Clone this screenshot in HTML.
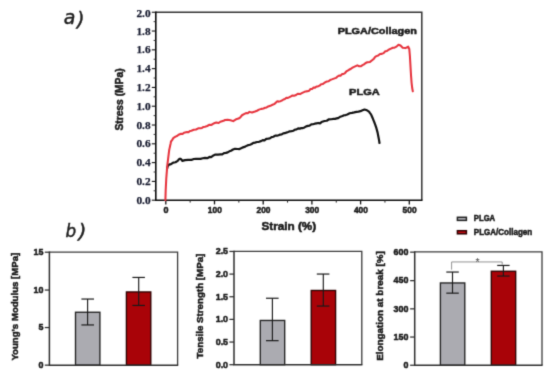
<!DOCTYPE html>
<html lang="en">
<head>
<meta charset="utf-8">
<title>Stress-strain and tensile properties of PLGA and PLGA/Collagen</title>
<style>
html,body{margin:0;padding:0;background:#ffffff;}
body{width:550px;height:375px;overflow:hidden;}
svg{display:block;}
</style>
</head>
<body>
<svg width="550" height="375" viewBox="0 0 550 375" role="img" aria-label="Stress-strain curves and tensile properties of PLGA and PLGA/Collagen">
<defs><filter id="soft" x="0" y="0" width="550" height="375" filterUnits="userSpaceOnUse" color-interpolation-filters="sRGB"><feConvolveMatrix order="3" kernelMatrix="0.0192 0.1001 0.0192 0.1001 0.5228 0.1001 0.0192 0.1001 0.0192" edgeMode="duplicate" preserveAlpha="true"/></filter></defs>
<g filter="url(#soft)">
<rect x="-5" y="-5" width="560" height="385" fill="#ffffff"/>
<path d="M155.8 12.25 H421.8 V200.2" fill="none" stroke="#333" stroke-width="1.5"/>
<path d="M155.8 11.55 V200.2 H422.5" fill="none" stroke="#0a0a0a" stroke-width="1.6"/>
<line x1="151.8" y1="200.2" x2="155.8" y2="200.2" stroke="#111" stroke-width="1.1" />
<text x="150.6" y="203.8" font-size="11.4" font-family='"Liberation Serif", "DejaVu Serif", serif' font-weight="bold" text-anchor="end" fill="#161a2e" textLength="14.2" lengthAdjust="spacingAndGlyphs" stroke="#161a2e" stroke-width="0.25">0.0</text>
<line x1="153.60000000000002" y1="190.8" x2="155.8" y2="190.8" stroke="#222" stroke-width="0.9" />
<line x1="151.8" y1="181.41" x2="155.8" y2="181.41" stroke="#111" stroke-width="1.1" />
<text x="150.6" y="185.01" font-size="11.4" font-family='"Liberation Serif", "DejaVu Serif", serif' font-weight="bold" text-anchor="end" fill="#161a2e" textLength="14.2" lengthAdjust="spacingAndGlyphs" stroke="#161a2e" stroke-width="0.25">0.2</text>
<line x1="153.60000000000002" y1="172.01" x2="155.8" y2="172.01" stroke="#222" stroke-width="0.9" />
<line x1="151.8" y1="162.61" x2="155.8" y2="162.61" stroke="#111" stroke-width="1.1" />
<text x="150.6" y="166.21" font-size="11.4" font-family='"Liberation Serif", "DejaVu Serif", serif' font-weight="bold" text-anchor="end" fill="#161a2e" textLength="14.2" lengthAdjust="spacingAndGlyphs" stroke="#161a2e" stroke-width="0.25">0.4</text>
<line x1="153.60000000000002" y1="153.21" x2="155.8" y2="153.21" stroke="#222" stroke-width="0.9" />
<line x1="151.8" y1="143.81" x2="155.8" y2="143.81" stroke="#111" stroke-width="1.1" />
<text x="150.6" y="147.41" font-size="11.4" font-family='"Liberation Serif", "DejaVu Serif", serif' font-weight="bold" text-anchor="end" fill="#161a2e" textLength="14.2" lengthAdjust="spacingAndGlyphs" stroke="#161a2e" stroke-width="0.25">0.6</text>
<line x1="153.60000000000002" y1="134.42" x2="155.8" y2="134.42" stroke="#222" stroke-width="0.9" />
<line x1="151.8" y1="125.02" x2="155.8" y2="125.02" stroke="#111" stroke-width="1.1" />
<text x="150.6" y="128.62" font-size="11.4" font-family='"Liberation Serif", "DejaVu Serif", serif' font-weight="bold" text-anchor="end" fill="#161a2e" textLength="14.2" lengthAdjust="spacingAndGlyphs" stroke="#161a2e" stroke-width="0.25">0.8</text>
<line x1="153.60000000000002" y1="115.62" x2="155.8" y2="115.62" stroke="#222" stroke-width="0.9" />
<line x1="151.8" y1="106.22" x2="155.8" y2="106.22" stroke="#111" stroke-width="1.1" />
<text x="150.6" y="109.82" font-size="11.4" font-family='"Liberation Serif", "DejaVu Serif", serif' font-weight="bold" text-anchor="end" fill="#161a2e" textLength="14.2" lengthAdjust="spacingAndGlyphs" stroke="#161a2e" stroke-width="0.25">1.0</text>
<line x1="153.60000000000002" y1="96.83" x2="155.8" y2="96.83" stroke="#222" stroke-width="0.9" />
<line x1="151.8" y1="87.43" x2="155.8" y2="87.43" stroke="#111" stroke-width="1.1" />
<text x="150.6" y="91.03" font-size="11.4" font-family='"Liberation Serif", "DejaVu Serif", serif' font-weight="bold" text-anchor="end" fill="#161a2e" textLength="14.2" lengthAdjust="spacingAndGlyphs" stroke="#161a2e" stroke-width="0.25">1.2</text>
<line x1="153.60000000000002" y1="78.03" x2="155.8" y2="78.03" stroke="#222" stroke-width="0.9" />
<line x1="151.8" y1="68.63" x2="155.8" y2="68.63" stroke="#111" stroke-width="1.1" />
<text x="150.6" y="72.23" font-size="11.4" font-family='"Liberation Serif", "DejaVu Serif", serif' font-weight="bold" text-anchor="end" fill="#161a2e" textLength="14.2" lengthAdjust="spacingAndGlyphs" stroke="#161a2e" stroke-width="0.25">1.4</text>
<line x1="153.60000000000002" y1="59.24" x2="155.8" y2="59.24" stroke="#222" stroke-width="0.9" />
<line x1="151.8" y1="49.84" x2="155.8" y2="49.84" stroke="#111" stroke-width="1.1" />
<text x="150.6" y="53.44" font-size="11.4" font-family='"Liberation Serif", "DejaVu Serif", serif' font-weight="bold" text-anchor="end" fill="#161a2e" textLength="14.2" lengthAdjust="spacingAndGlyphs" stroke="#161a2e" stroke-width="0.25">1.6</text>
<line x1="153.60000000000002" y1="40.44" x2="155.8" y2="40.44" stroke="#222" stroke-width="0.9" />
<line x1="151.8" y1="31.04" x2="155.8" y2="31.04" stroke="#111" stroke-width="1.1" />
<text x="150.6" y="34.64" font-size="11.4" font-family='"Liberation Serif", "DejaVu Serif", serif' font-weight="bold" text-anchor="end" fill="#161a2e" textLength="14.2" lengthAdjust="spacingAndGlyphs" stroke="#161a2e" stroke-width="0.25">1.8</text>
<line x1="153.60000000000002" y1="21.65" x2="155.8" y2="21.65" stroke="#222" stroke-width="0.9" />
<line x1="151.8" y1="12.25" x2="155.8" y2="12.25" stroke="#111" stroke-width="1.1" />
<text x="150.6" y="17.05" font-size="11.4" font-family='"Liberation Serif", "DejaVu Serif", serif' font-weight="bold" text-anchor="end" fill="#161a2e" textLength="14.2" lengthAdjust="spacingAndGlyphs" stroke="#161a2e" stroke-width="0.25">2.0</text>
<line x1="165.8" y1="200.2" x2="165.8" y2="204.39999999999998" stroke="#111" stroke-width="1.3" />
<text x="166.1" y="213.2" font-size="8.6" font-family='"Liberation Sans", Arial, sans-serif' font-weight="bold" text-anchor="middle" fill="#1a1a1a" textLength="5.0" lengthAdjust="spacingAndGlyphs" stroke="#1a1a1a" stroke-width="0.5">0</text>
<line x1="190.15" y1="200.2" x2="190.15" y2="202.6" stroke="#222" stroke-width="1.0" />
<line x1="214.5" y1="200.2" x2="214.5" y2="204.39999999999998" stroke="#111" stroke-width="1.3" />
<text x="214.8" y="213.2" font-size="8.6" font-family='"Liberation Sans", Arial, sans-serif' font-weight="bold" text-anchor="middle" fill="#1a1a1a" textLength="14.0" lengthAdjust="spacingAndGlyphs" stroke="#1a1a1a" stroke-width="0.5">100</text>
<line x1="238.85" y1="200.2" x2="238.85" y2="202.6" stroke="#222" stroke-width="1.0" />
<line x1="263.2" y1="200.2" x2="263.2" y2="204.39999999999998" stroke="#111" stroke-width="1.3" />
<text x="263.5" y="213.2" font-size="8.6" font-family='"Liberation Sans", Arial, sans-serif' font-weight="bold" text-anchor="middle" fill="#1a1a1a" textLength="14.0" lengthAdjust="spacingAndGlyphs" stroke="#1a1a1a" stroke-width="0.5">200</text>
<line x1="287.55" y1="200.2" x2="287.55" y2="202.6" stroke="#222" stroke-width="1.0" />
<line x1="311.9" y1="200.2" x2="311.9" y2="204.39999999999998" stroke="#111" stroke-width="1.3" />
<text x="312.2" y="213.2" font-size="8.6" font-family='"Liberation Sans", Arial, sans-serif' font-weight="bold" text-anchor="middle" fill="#1a1a1a" textLength="14.0" lengthAdjust="spacingAndGlyphs" stroke="#1a1a1a" stroke-width="0.5">300</text>
<line x1="336.25" y1="200.2" x2="336.25" y2="202.6" stroke="#222" stroke-width="1.0" />
<line x1="360.6" y1="200.2" x2="360.6" y2="204.39999999999998" stroke="#111" stroke-width="1.3" />
<text x="360.9" y="213.2" font-size="8.6" font-family='"Liberation Sans", Arial, sans-serif' font-weight="bold" text-anchor="middle" fill="#1a1a1a" textLength="14.0" lengthAdjust="spacingAndGlyphs" stroke="#1a1a1a" stroke-width="0.5">400</text>
<line x1="384.95" y1="200.2" x2="384.95" y2="202.6" stroke="#222" stroke-width="1.0" />
<line x1="409.3" y1="200.2" x2="409.3" y2="204.39999999999998" stroke="#111" stroke-width="1.3" />
<text x="409.6" y="213.2" font-size="8.6" font-family='"Liberation Sans", Arial, sans-serif' font-weight="bold" text-anchor="middle" fill="#1a1a1a" textLength="14.0" lengthAdjust="spacingAndGlyphs" stroke="#1a1a1a" stroke-width="0.5">500</text>
<text x="288.8" y="229.7" font-size="10.6" font-family='"Liberation Sans", Arial, sans-serif' font-weight="bold" text-anchor="middle" fill="#1a1a1a" textLength="54.8" lengthAdjust="spacingAndGlyphs" stroke="#1a1a1a" stroke-width="0.5">Strain (%)</text>
<text x="123.1" y="99.5" font-size="10.1" font-family='"Liberation Sans", Arial, sans-serif' font-weight="bold" text-anchor="middle" fill="#1a1a1a" textLength="62.2" lengthAdjust="spacingAndGlyphs" transform="rotate(-90 123.1 99.5)" stroke="#1a1a1a" stroke-width="0.5">Stress (MPa)</text>
<polyline points="167.0,169.0 167.7,166.22 169.0,164.65 171.0,164.15 173.2,162.57 175.5,162.24 177.7,160.87 179.0,159.16 180.0,158.71 181.2,159.34 182.3,160.93 185.0,160.17 188.0,159.79 189.7,159.84 191.4,159.96 193.7,159.0 196.0,158.84 198.25,158.89 200.5,158.86 202.75,158.28 205.0,157.9 207.25,158.17 209.5,156.94 211.0,157.18 212.5,156.04 215.0,154.64 218.0,154.58 220.5,154.42 222.25,154.36 224.0,153.16 225.85,152.92 227.7,152.34 229.35,151.32 231.0,150.75 233.0,149.51 235.0,148.76 237.5,149.01 239.5,149.08 241.25,148.13 243.0,147.31 244.5,146.94 246.0,146.15 248.0,145.15 250.0,144.79 251.67,144.03 253.33,142.91 255.0,142.57 257.0,141.99 259.0,141.81 261.0,141.13 262.75,140.14 264.5,140.28 266.25,138.87 268.0,138.62 269.8,138.32 271.6,137.07 273.4,136.77 275.2,135.68 277.0,135.67 278.57,135.26 280.13,134.57 281.7,134.38 283.27,133.31 284.83,133.2 286.4,132.59 288.12,132.02 289.84,131.34 291.56,131.16 293.28,130.7 295.0,129.67 296.58,129.43 298.17,128.39 299.75,128.6 301.33,128.11 302.92,128.03 304.5,127.42 306.2,126.32 307.9,125.87 309.6,125.59 311.3,124.38 313.0,124.26 314.75,123.67 316.5,123.32 318.25,122.96 320.0,123.37 321.5,122.06 323.0,121.51 324.5,120.99 326.75,120.77 329.0,119.28 331.25,119.25 333.5,118.95 335.07,118.88 336.63,118.42 338.2,118.06 340.35,116.68 342.5,116.02 344.1,115.26 345.7,115.08 347.3,114.46 349.65,113.24 352.0,112.86 354.2,112.39 356.4,111.86 358.45,111.59 360.5,111.18 362.5,110.31 364.5,109.5 367.0,110.32 369.0,111.67 370.0,113.17 371.0,114.4 371.85,116.3 372.7,118.2 373.33,119.8 373.97,121.4 374.6,123.0 375.2,124.73 375.8,126.47 376.4,128.2 377.0,130.4 377.6,132.6 378.05,134.95 378.5,137.3 379.1,140.4 379.5,143" fill="none" stroke="#111111" stroke-width="2.2" stroke-linejoin="round" stroke-linecap="round"/>
<polyline points="165.4,200.2 165.45,198.5 165.5,196.8 165.55,195.1 165.6,193.4 165.65,191.7 165.7,190.0 165.79,188.29 165.87,186.57 165.96,184.86 166.04,183.14 166.13,181.43 166.21,179.71 166.3,178.0 166.44,176.31 166.58,174.62 166.71,172.94 166.85,171.25 166.99,169.56 167.12,167.88 167.26,166.19 167.4,164.5 167.6,162.89 167.8,161.28 168.0,159.67 168.2,158.06 168.4,156.44 168.6,154.83 168.8,153.22 169.0,151.61 169.2,150.0 169.56,148.36 169.92,146.72 170.28,145.08 170.64,143.44 171.0,141.49 172.1,140.13 173.2,138.19 175.5,136.67 177.05,136.05 178.6,134.73 181.0,133.77 182.5,134.05 184.0,132.66 187.0,132.03 188.47,132.28 189.93,130.98 191.4,130.75 193.7,129.82 196.0,129.52 198.25,128.28 200.5,128.21 202.0,127.92 203.5,126.94 205.0,126.64 207.25,126.01 209.5,124.73 211.0,124.99 212.5,124.23 214.0,123.31 216.3,122.49 218.6,122.99 220.3,121.72 222.0,121.21 223.5,120.8 225.0,120.01 227.7,119.76 230.5,120.22 233.2,121.11 236.0,119.28 238.6,118.57 240.3,117.35 242.0,115.27 244.0,114.16 246.0,113.11 247.75,113.26 249.5,111.87 252.0,112.5 255.0,111.51 257.0,110.76 259.0,109.61 261.25,108.87 263.5,108.45 265.07,107.75 266.63,107.44 268.2,106.47 270.35,105.81 272.5,104.78 274.1,104.07 275.7,102.82 277.3,101.35 278.87,101.62 280.43,101.17 282.0,100.54 283.47,99.47 284.93,98.97 286.4,97.7 287.93,97.95 289.47,97.14 291.0,96.29 292.5,95.43 294.0,95.77 295.5,95.34 297.75,93.76 300.0,94.11 302.25,92.89 304.5,91.83 306.0,91.37 307.5,91.31 309.0,90.8 310.53,89.04 312.07,88.95 313.6,87.5 315.07,87.61 316.53,86.45 318.0,86.41 319.57,85.69 321.13,84.29 322.7,84.05 324.85,82.47 327.0,81.44 328.6,81.34 330.2,79.92 331.8,79.39 333.9,78.64 336.0,77.88 337.5,76.5 339.0,75.53 340.5,75.69 342.0,74.13 343.5,74.0 345.0,73.03 346.33,71.47 347.67,70.64 349.0,69.77 351.0,68.72 353.0,67.46 355.15,66.37 357.3,65.39 359.15,66.28 361.0,66.26 362.5,65.12 364.0,64.41 365.65,63.04 367.3,62.31 370.0,61.92 372.7,59.78 373.93,58.64 375.17,56.83 376.4,56.15 378.2,55.5 380.0,53.97 381.8,53.89 383.6,53.11 385.3,51.32 387.0,50.9 389.0,49.51 391.0,48.57 392.75,47.72 394.5,47.7 396.5,46.64 398.5,44.68 400.5,45.42 402.7,47.66 405.5,48.11 408.2,46.65 409.3,49.0 409.45,50.75 409.6,52.5 409.75,54.25 409.9,56.0 410.0,57.73 410.1,59.47 410.2,61.2 410.3,62.93 410.4,64.67 410.5,66.4 410.6,68.12 410.7,69.84 410.8,71.56 410.9,73.28 411.0,75.0 411.12,76.6 411.24,78.2 411.36,79.8 411.48,81.4 411.6,83.0 411.8,84.67 412.0,86.33 412.2,88.0 412.5,89.65 412.8,91.3" fill="none" stroke="#e6333d" stroke-width="2.05" stroke-linejoin="round" stroke-linecap="round"/>
<text x="377.3" y="34.4" font-size="9.6" font-family='"Liberation Sans", Arial, sans-serif' font-weight="bold" text-anchor="middle" fill="#1a1a1a" textLength="79.3" lengthAdjust="spacingAndGlyphs" stroke="#1a1a1a" stroke-width="0.5">PLGA/Collagen</text>
<text x="364.4" y="94.9" font-size="9.6" font-family='"Liberation Sans", Arial, sans-serif' font-weight="bold" text-anchor="middle" fill="#1a1a1a" textLength="30.7" lengthAdjust="spacingAndGlyphs" stroke="#1a1a1a" stroke-width="0.5">PLGA</text>
<text transform="translate(63.84 24.21) scale(0.950 0.957)" font-size="20.0" font-family='"DejaVu Sans", "Liberation Sans", sans-serif' font-style="oblique" fill="#1e1e1e" stroke="#1e1e1e" stroke-width="0.5">a</text>
<text transform="translate(77.05 25.90) scale(0.957 0.961)" font-size="20.0" font-family='"DejaVu Sans", "Liberation Sans", sans-serif' font-style="oblique" fill="#1e1e1e" stroke="#1e1e1e" stroke-width="0.5">)</text>
<text transform="translate(65.61 237.14) scale(0.845 0.877)" font-size="20.0" font-family='"DejaVu Sans", "Liberation Sans", sans-serif' font-style="oblique" fill="#1e1e1e" stroke="#1e1e1e" stroke-width="0.5">b</text>
<text transform="translate(78.42 238.48) scale(1.014 0.933)" font-size="20.0" font-family='"DejaVu Sans", "Liberation Sans", sans-serif' font-style="oblique" fill="#1e1e1e" stroke="#1e1e1e" stroke-width="0.5">)</text>
<g transform="translate(0 0.45)">
<path d="M49.4 251.7 H177.6 V364.7" fill="none" stroke="#3a3a3a" stroke-width="1.3"/>
<rect x="75.5" y="311.8" width="24.4" height="52.9" fill="#ababb1" stroke="#222222" stroke-width="1.35"/>
<line x1="87.6" y1="298.6" x2="87.6" y2="324.5" stroke="#1a1a1a" stroke-width="1.15" />
<line x1="81.4" y1="298.6" x2="94.0" y2="298.6" stroke="#1a1a1a" stroke-width="1.2" />
<line x1="81.4" y1="324.5" x2="94.0" y2="324.5" stroke="#1a1a1a" stroke-width="1.2" />
<rect x="126.4" y="291.5" width="24.4" height="73.2" fill="#a90308" stroke="#2e0000" stroke-width="1.35"/>
<line x1="138.7" y1="277.0" x2="138.7" y2="305.0" stroke="#1a1a1a" stroke-width="1.15" />
<line x1="132.4" y1="277.0" x2="144.9" y2="277.0" stroke="#1a1a1a" stroke-width="1.2" />
<line x1="132.4" y1="305.0" x2="144.9" y2="305.0" stroke="#1a1a1a" stroke-width="1.2" />
<path d="M49.4 251.1 V364.7 H178.2" fill="none" stroke="#2e2e2e" stroke-width="1.5"/>
<line x1="44.8" y1="364.7" x2="49.4" y2="364.7" stroke="#2e2e2e" stroke-width="1.25" />
<text x="43.4" y="367.55" font-size="9.2" font-family='"Liberation Sans", Arial, sans-serif' font-weight="bold" text-anchor="end" fill="#1a1a1a" textLength="4.96" lengthAdjust="spacingAndGlyphs" stroke="#1a1a1a" stroke-width="0.5">0</text>
<line x1="44.8" y1="327.1" x2="49.4" y2="327.1" stroke="#2e2e2e" stroke-width="1.25" />
<text x="43.4" y="329.95" font-size="9.2" font-family='"Liberation Sans", Arial, sans-serif' font-weight="bold" text-anchor="end" fill="#1a1a1a" textLength="4.96" lengthAdjust="spacingAndGlyphs" stroke="#1a1a1a" stroke-width="0.5">5</text>
<line x1="44.8" y1="289.6" x2="49.4" y2="289.6" stroke="#2e2e2e" stroke-width="1.25" />
<text x="43.4" y="292.45" font-size="9.2" font-family='"Liberation Sans", Arial, sans-serif' font-weight="bold" text-anchor="end" fill="#1a1a1a" textLength="9.92" lengthAdjust="spacingAndGlyphs" stroke="#1a1a1a" stroke-width="0.5">10</text>
<line x1="44.8" y1="251.75" x2="49.4" y2="251.75" stroke="#2e2e2e" stroke-width="1.25" />
<text x="43.4" y="254.6" font-size="9.2" font-family='"Liberation Sans", Arial, sans-serif' font-weight="bold" text-anchor="end" fill="#1a1a1a" textLength="9.92" lengthAdjust="spacingAndGlyphs" stroke="#1a1a1a" stroke-width="0.5">15</text>
<text x="18.3" y="306.25" font-size="9.9" font-family='"Liberation Sans", Arial, sans-serif' font-weight="bold" text-anchor="middle" fill="#1a1a1a" textLength="107.8" lengthAdjust="spacingAndGlyphs" transform="rotate(-90 18.3 306.25)" stroke="#1a1a1a" stroke-width="0.5">Young's Modulus [MPa]</text>
<path d="M234.0 251.0 H361.8 V364.25" fill="none" stroke="#3a3a3a" stroke-width="1.3"/>
<rect x="260.3" y="320.0" width="24.4" height="44.25" fill="#ababb1" stroke="#222222" stroke-width="1.35"/>
<line x1="272.4" y1="297.8" x2="272.4" y2="340.2" stroke="#1a1a1a" stroke-width="1.15" />
<line x1="266.0" y1="297.8" x2="278.6" y2="297.8" stroke="#1a1a1a" stroke-width="1.2" />
<line x1="266.0" y1="340.2" x2="278.6" y2="340.2" stroke="#1a1a1a" stroke-width="1.2" />
<rect x="311.2" y="290.0" width="24.4" height="74.25" fill="#a90308" stroke="#2e0000" stroke-width="1.35"/>
<line x1="323.3" y1="273.6" x2="323.3" y2="305.6" stroke="#1a1a1a" stroke-width="1.15" />
<line x1="316.8" y1="273.6" x2="329.4" y2="273.6" stroke="#1a1a1a" stroke-width="1.2" />
<line x1="316.8" y1="305.6" x2="329.4" y2="305.6" stroke="#1a1a1a" stroke-width="1.2" />
<path d="M234.0 250.4 V364.25 H362.40000000000003" fill="none" stroke="#2e2e2e" stroke-width="1.5"/>
<line x1="229.4" y1="364.25" x2="234.0" y2="364.25" stroke="#2e2e2e" stroke-width="1.25" />
<text x="228.1" y="367.1" font-size="9.2" font-family='"Liberation Sans", Arial, sans-serif' font-weight="bold" text-anchor="end" fill="#1a1a1a" textLength="12.4" lengthAdjust="spacingAndGlyphs" stroke="#1a1a1a" stroke-width="0.5">0.0</text>
<line x1="229.4" y1="341.6" x2="234.0" y2="341.6" stroke="#2e2e2e" stroke-width="1.25" />
<text x="228.1" y="344.45" font-size="9.2" font-family='"Liberation Sans", Arial, sans-serif' font-weight="bold" text-anchor="end" fill="#1a1a1a" textLength="12.4" lengthAdjust="spacingAndGlyphs" stroke="#1a1a1a" stroke-width="0.5">0.5</text>
<line x1="229.4" y1="318.95" x2="234.0" y2="318.95" stroke="#2e2e2e" stroke-width="1.25" />
<text x="228.1" y="321.8" font-size="9.2" font-family='"Liberation Sans", Arial, sans-serif' font-weight="bold" text-anchor="end" fill="#1a1a1a" textLength="12.4" lengthAdjust="spacingAndGlyphs" stroke="#1a1a1a" stroke-width="0.5">1.0</text>
<line x1="229.4" y1="296.3" x2="234.0" y2="296.3" stroke="#2e2e2e" stroke-width="1.25" />
<text x="228.1" y="299.15" font-size="9.2" font-family='"Liberation Sans", Arial, sans-serif' font-weight="bold" text-anchor="end" fill="#1a1a1a" textLength="12.4" lengthAdjust="spacingAndGlyphs" stroke="#1a1a1a" stroke-width="0.5">1.5</text>
<line x1="229.4" y1="273.65" x2="234.0" y2="273.65" stroke="#2e2e2e" stroke-width="1.25" />
<text x="228.1" y="276.5" font-size="9.2" font-family='"Liberation Sans", Arial, sans-serif' font-weight="bold" text-anchor="end" fill="#1a1a1a" textLength="12.4" lengthAdjust="spacingAndGlyphs" stroke="#1a1a1a" stroke-width="0.5">2.0</text>
<line x1="229.4" y1="251.0" x2="234.0" y2="251.0" stroke="#2e2e2e" stroke-width="1.25" />
<text x="228.1" y="253.85" font-size="9.2" font-family='"Liberation Sans", Arial, sans-serif' font-weight="bold" text-anchor="end" fill="#1a1a1a" textLength="12.4" lengthAdjust="spacingAndGlyphs" stroke="#1a1a1a" stroke-width="0.5">2.5</text>
<text x="202.9" y="305.6" font-size="9.9" font-family='"Liberation Sans", Arial, sans-serif' font-weight="bold" text-anchor="middle" fill="#1a1a1a" textLength="104.7" lengthAdjust="spacingAndGlyphs" transform="rotate(-90 202.9 305.6)" stroke="#1a1a1a" stroke-width="0.5">Tensile Strength [MPa]</text>
<path d="M414.7 251.5 H542.0 V364.8" fill="none" stroke="#3a3a3a" stroke-width="1.3"/>
<rect x="440.4" y="282.5" width="24.4" height="82.3" fill="#ababb1" stroke="#222222" stroke-width="1.35"/>
<line x1="452.5" y1="271.6" x2="452.5" y2="292.7" stroke="#1a1a1a" stroke-width="1.15" />
<line x1="446.3" y1="271.6" x2="458.8" y2="271.6" stroke="#1a1a1a" stroke-width="1.2" />
<line x1="446.3" y1="292.7" x2="458.8" y2="292.7" stroke="#1a1a1a" stroke-width="1.2" />
<rect x="491.3" y="270.8" width="24.4" height="94.0" fill="#a90308" stroke="#2e0000" stroke-width="1.35"/>
<line x1="503.4" y1="265.0" x2="503.4" y2="275.6" stroke="#1a1a1a" stroke-width="1.15" />
<line x1="497.2" y1="265.0" x2="509.6" y2="265.0" stroke="#1a1a1a" stroke-width="1.2" />
<line x1="497.2" y1="275.6" x2="509.6" y2="275.6" stroke="#1a1a1a" stroke-width="1.2" />
<path d="M414.7 250.9 V364.8 H542.6" fill="none" stroke="#2e2e2e" stroke-width="1.5"/>
<line x1="410.09999999999997" y1="364.8" x2="414.7" y2="364.8" stroke="#2e2e2e" stroke-width="1.25" />
<text x="408.4" y="367.65" font-size="9.2" font-family='"Liberation Sans", Arial, sans-serif' font-weight="bold" text-anchor="end" fill="#1a1a1a" textLength="4.96" lengthAdjust="spacingAndGlyphs" stroke="#1a1a1a" stroke-width="0.5">0</text>
<line x1="410.09999999999997" y1="336.6" x2="414.7" y2="336.6" stroke="#2e2e2e" stroke-width="1.25" />
<text x="408.4" y="339.45" font-size="9.2" font-family='"Liberation Sans", Arial, sans-serif' font-weight="bold" text-anchor="end" fill="#1a1a1a" textLength="14.89" lengthAdjust="spacingAndGlyphs" stroke="#1a1a1a" stroke-width="0.5">150</text>
<line x1="410.09999999999997" y1="308.4" x2="414.7" y2="308.4" stroke="#2e2e2e" stroke-width="1.25" />
<text x="408.4" y="311.25" font-size="9.2" font-family='"Liberation Sans", Arial, sans-serif' font-weight="bold" text-anchor="end" fill="#1a1a1a" textLength="14.89" lengthAdjust="spacingAndGlyphs" stroke="#1a1a1a" stroke-width="0.5">300</text>
<line x1="410.09999999999997" y1="280.2" x2="414.7" y2="280.2" stroke="#2e2e2e" stroke-width="1.25" />
<text x="408.4" y="283.05" font-size="9.2" font-family='"Liberation Sans", Arial, sans-serif' font-weight="bold" text-anchor="end" fill="#1a1a1a" textLength="14.89" lengthAdjust="spacingAndGlyphs" stroke="#1a1a1a" stroke-width="0.5">450</text>
<line x1="410.09999999999997" y1="251.7" x2="414.7" y2="251.7" stroke="#2e2e2e" stroke-width="1.25" />
<text x="408.4" y="254.55" font-size="9.2" font-family='"Liberation Sans", Arial, sans-serif' font-weight="bold" text-anchor="end" fill="#1a1a1a" textLength="14.89" lengthAdjust="spacingAndGlyphs" stroke="#1a1a1a" stroke-width="0.5">600</text>
<text x="383.3" y="305.6" font-size="9.9" font-family='"Liberation Sans", Arial, sans-serif' font-weight="bold" text-anchor="middle" fill="#1a1a1a" textLength="109.6" lengthAdjust="spacingAndGlyphs" transform="rotate(-90 383.3 305.6)" stroke="#1a1a1a" stroke-width="0.5">Elongation at break [%]</text>
<path d="M451.6 269.2 V261.5 H502.2 V264.2" fill="none" stroke="#777" stroke-width="0.8"/>
<text x="477.5" y="265.2" font-size="10.5" font-family='"Liberation Sans", Arial, sans-serif' font-weight="normal" text-anchor="middle" fill="#4a4a4a">*</text>
</g>
<rect x="457.4" y="217.3" width="9.0" height="3.1" fill="#b4b4ba" stroke="#222" stroke-width="1.5"/>
<rect x="457.4" y="230.7" width="9.0" height="3.1" fill="#c00a10" stroke="#2e0000" stroke-width="1.5"/>
<text x="473.8" y="221.4" font-size="8.3" font-family='"Liberation Sans", Arial, sans-serif' font-weight="bold" text-anchor="start" fill="#1a1a1a" textLength="21.4" lengthAdjust="spacingAndGlyphs" stroke="#1a1a1a" stroke-width="0.5">PLGA</text>
<text x="473.8" y="235.1" font-size="8.3" font-family='"Liberation Sans", Arial, sans-serif' font-weight="bold" text-anchor="start" fill="#1a1a1a" textLength="58.4" lengthAdjust="spacingAndGlyphs" stroke="#1a1a1a" stroke-width="0.5">PLGA/Collagen</text>
</g>
</svg>
</body>
</html>
